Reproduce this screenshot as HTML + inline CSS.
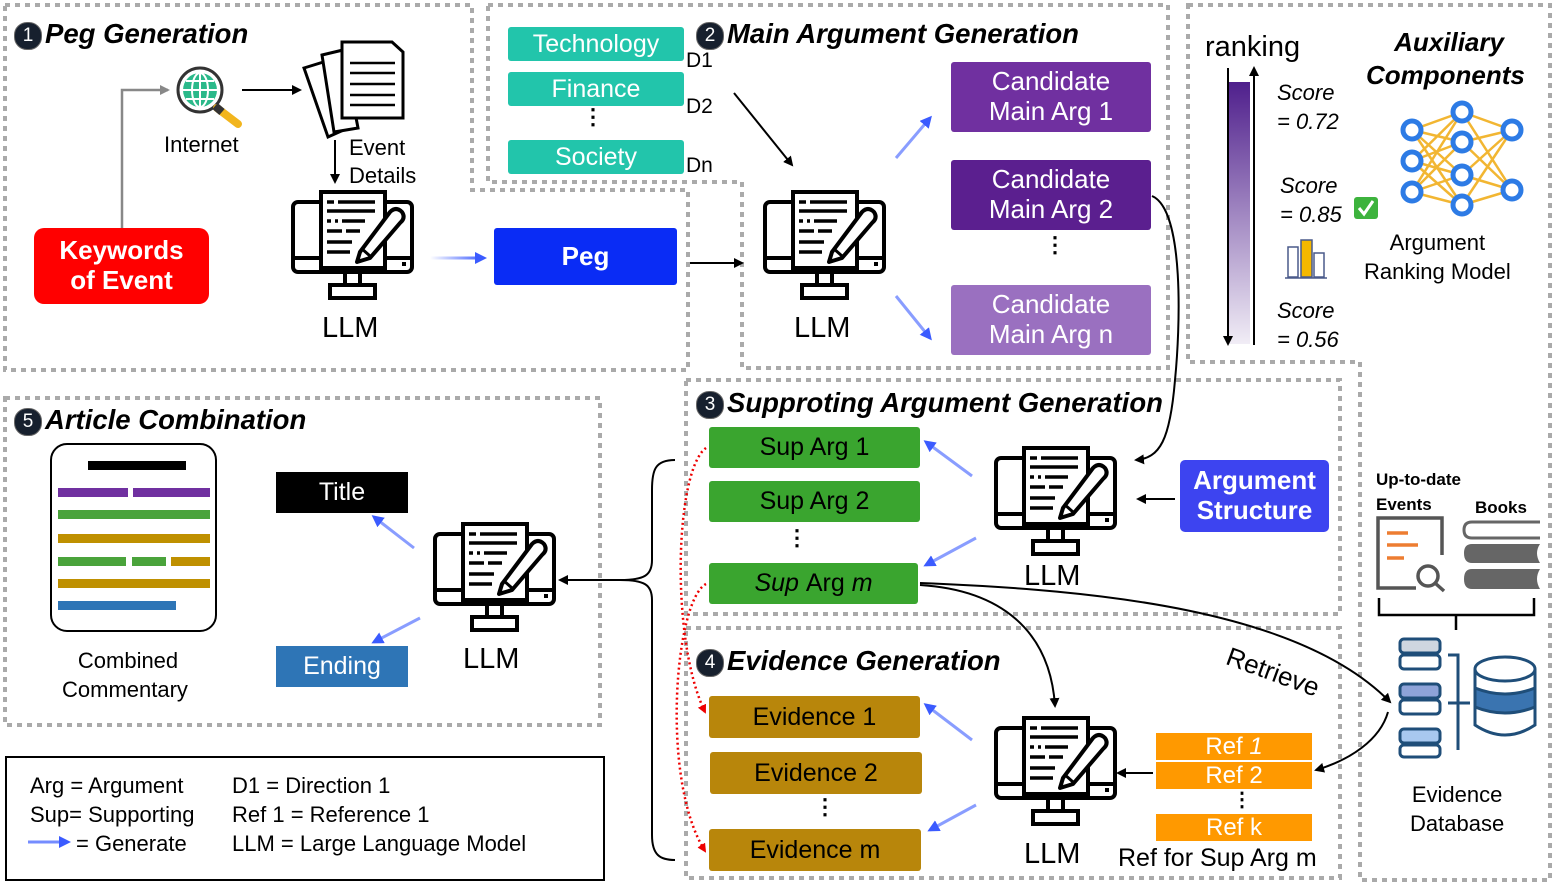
<!DOCTYPE html>
<html><head><meta charset="utf-8"><style>
body{margin:0;background:#fff;}
#c{position:relative;width:1561px;height:884px;overflow:hidden;font-family:"Liberation Sans",sans-serif;}
.t{position:absolute;white-space:nowrap;line-height:1;}
.b{position:absolute;display:flex;align-items:center;justify-content:center;text-align:center;border-radius:3px;line-height:1.15;}
.h{font-weight:bold;font-style:italic;font-size:27.5px;color:#000;}
.num{display:inline-block;width:26px;height:26px;border-radius:13px;background:#17202e;color:#fff;font-size:19px;font-style:normal;font-weight:normal;text-align:center;line-height:26px;margin-right:3px;vertical-align:2px;border:1px solid #666;}
</style></head><body><div id="c">
<svg width="1561" height="884" style="position:absolute;left:0;top:0">
<defs>
<symbol id="llm" viewBox="0 0 125 112">
<rect x="3" y="12" width="119" height="70" rx="5" fill="#fff" stroke="#000" stroke-width="4"/>
<line x1="3" y1="68" x2="122" y2="68" stroke="#000" stroke-width="4"/>
<rect x="112" y="72" width="4" height="4" fill="#000"/>
<rect x="55" y="82" width="15" height="13" fill="none" stroke="#000" stroke-width="4"/>
<rect x="40" y="95" width="45" height="13" fill="none" stroke="#000" stroke-width="4"/>
<rect x="31" y="2" width="64" height="76" fill="#fff" stroke="#000" stroke-width="4"/>
<g stroke="#000" stroke-width="3.5"><line x1="37" y1="12" x2="44" y2="12"/><line x1="48" y1="12" x2="85" y2="12"/><line x1="37" y1="21" x2="85" y2="21"/><line x1="37" y1="31" x2="41" y2="31"/><line x1="45" y1="31" x2="48" y2="31"/><line x1="52" y1="31" x2="75" y2="31"/><line x1="37" y1="41" x2="52" y2="41"/><line x1="56" y1="41" x2="70" y2="41"/><line x1="37" y1="52" x2="62" y2="52"/><line x1="37" y1="62" x2="60" y2="62"/></g>
<path d="M70 62 L100 22 Q106 16 112 22 Q116 28 110 33 L80 68 L67 72 Z" fill="#fff" stroke="#000" stroke-width="4" stroke-linejoin="round"/>
<line x1="71" y1="58" x2="80" y2="66" stroke="#000" stroke-width="3"/>
</symbol>
<marker id="ah" markerWidth="10" markerHeight="10" refX="8" refY="5" orient="auto" markerUnits="userSpaceOnUse"><path d="M0 0 L10 5 L0 10 Z" fill="#000"/></marker>
<marker id="ahg" markerWidth="10" markerHeight="10" refX="8" refY="5" orient="auto" markerUnits="userSpaceOnUse"><path d="M0 0 L10 5 L0 10 Z" fill="#888"/></marker>
<marker id="ahb" markerWidth="12" markerHeight="12" refX="9" refY="6" orient="auto" markerUnits="userSpaceOnUse"><path d="M0 0 L12 6 L0 12 Z" fill="#3b5bff"/></marker>
<marker id="ahr" markerWidth="9" markerHeight="9" refX="7" refY="4.5" orient="auto" markerUnits="userSpaceOnUse"><path d="M0 0 L9 4.5 L0 9 Z" fill="#e00"/></marker>
<linearGradient id="bl" gradientUnits="userSpaceOnUse" x1="430" y1="0" x2="484" y2="0"><stop offset="0" stop-color="#3b5bff" stop-opacity="0"/><stop offset="1" stop-color="#3b5bff"/></linearGradient>
<linearGradient id="pu" x1="0" y1="0" x2="0" y2="1"><stop offset="0" stop-color="#4f1f8c"/><stop offset="1" stop-color="#4f1f8c" stop-opacity="0.08"/></linearGradient>
</defs>
<g fill="none" stroke="#aaa" stroke-width="4" stroke-dasharray="5 5">
<path d="M5 5 H472 V190 H688 V370 H5 Z"/>
<path d="M488 5 H1168 V368 H742 V182 H488 Z"/>
<path d="M1188 5 H1550 V880 H1360 V362 H1188 Z"/>
<path d="M686 380 H1340 V614 H686 Z"/>
<path d="M686 628 H1340 V878 H686 Z"/>
<path d="M5 398 H600 V725 H5 Z"/>
</g>
<rect x="6" y="757" width="598" height="123" fill="none" stroke="#000" stroke-width="2"/>
<use href="#llm" x="290" y="190" width="125" height="112"/>
<use href="#llm" x="762" y="190" width="125" height="112"/>
<use href="#llm" x="993" y="446" width="125" height="112"/>
<use href="#llm" x="432" y="522" width="125" height="112"/>
<use href="#llm" x="993" y="716" width="125" height="112"/>
<circle cx="200" cy="90" r="22" fill="#fff" stroke="#333" stroke-width="3"/>
<circle cx="200" cy="90" r="17" fill="#2bb98a"/>
<g stroke="#fff" stroke-width="2" fill="none"><line x1="183" y1="90" x2="217" y2="90"/><line x1="200" y1="73" x2="200" y2="107"/><ellipse cx="200" cy="90" rx="8" ry="17"/><line x1="186" y1="81" x2="214" y2="81"/><line x1="186" y1="99" x2="214" y2="99"/></g>
<line x1="217" y1="108" x2="238" y2="124" stroke="#f2b51d" stroke-width="8" stroke-linecap="round"/>
<line x1="215" y1="106" x2="222" y2="112" stroke="#333" stroke-width="8"/>
<g fill="#fff" stroke="#000" stroke-width="3">
<path d="M304 68 L330 60 L348 128 L328 137 Z"/>
<path d="M322 55 L343 50 L358 128 L334 132 Z"/>
<path d="M342 42 L392 42 L403 52 L403 118 L342 118 Z"/>
</g>
<g stroke="#000" stroke-width="2.5"><line x1="350" y1="63" x2="395" y2="63"/><line x1="350" y1="73" x2="395" y2="73"/><line x1="350" y1="84" x2="395" y2="84"/><line x1="350" y1="95" x2="395" y2="95"/><line x1="350" y1="105" x2="395" y2="105"/></g>
<path d="M122 228 V90 H168" fill="none" stroke="#888" stroke-width="2.5" marker-end="url(#ahg)"/>
<line x1="242" y1="90" x2="300" y2="90" stroke="#000" stroke-width="2" marker-end="url(#ah)"/>
<line x1="335" y1="140" x2="335" y2="182" stroke="#000" stroke-width="2" marker-end="url(#ah)"/>
<line x1="430" y1="258" x2="484" y2="258" stroke="url(#bl)" stroke-width="3" marker-end="url(#ahb)"/>
<line x1="690" y1="263" x2="742" y2="263" stroke="#000" stroke-width="2" marker-end="url(#ah)"/>
<line x1="734" y1="93" x2="792" y2="165" stroke="#000" stroke-width="2" marker-end="url(#ah)"/>
<line x1="896" y1="158" x2="930" y2="118" stroke="#3b5bff" stroke-opacity="0.6" stroke-width="3" marker-end="url(#ahb)"/>
<line x1="896" y1="296" x2="930" y2="338" stroke="#3b5bff" stroke-opacity="0.6" stroke-width="3" marker-end="url(#ahb)"/>
<path d="M1152 196 C1185 210 1180 330 1175 380 C1170 440 1160 458 1136 460" fill="none" stroke="#000" stroke-width="2" marker-end="url(#ah)"/>
<line x1="1175" y1="499" x2="1138" y2="499" stroke="#000" stroke-width="2" marker-end="url(#ah)"/>
<line x1="972" y1="476" x2="926" y2="442" stroke="#3b5bff" stroke-opacity="0.6" stroke-width="3" marker-end="url(#ahb)"/>
<line x1="976" y1="538" x2="926" y2="565" stroke="#3b5bff" stroke-opacity="0.6" stroke-width="3" marker-end="url(#ahb)"/>
<line x1="972" y1="740" x2="926" y2="705" stroke="#3b5bff" stroke-opacity="0.6" stroke-width="3" marker-end="url(#ahb)"/>
<line x1="976" y1="805" x2="930" y2="830" stroke="#3b5bff" stroke-opacity="0.6" stroke-width="3" marker-end="url(#ahb)"/>
<path d="M920 585 C1000 590 1050 630 1055 706" fill="none" stroke="#000" stroke-width="2" marker-end="url(#ah)"/>
<path d="M920 583 C1100 590 1300 610 1390 702" fill="none" stroke="#000" stroke-width="2" marker-end="url(#ah)"/>
<path d="M1388 712 C1380 740 1350 760 1316 770" fill="none" stroke="#000" stroke-width="2" marker-end="url(#ah)"/>
<line x1="1153" y1="773" x2="1118" y2="773" stroke="#000" stroke-width="2" marker-end="url(#ah)"/>
<path d="M675 460 C655 460 652 470 652 490 V560 C652 575 645 580 620 580 C645 580 652 585 652 600 V835 C652 855 660 860 675 860" fill="none" stroke="#000" stroke-width="2"/>
<line x1="620" y1="580" x2="560" y2="580" stroke="#000" stroke-width="2" marker-end="url(#ah)"/>
<g fill="none" stroke="#e00" stroke-width="2.5" stroke-dasharray="2 3">
<path d="M706 448 C675 470 670 640 705 712" marker-end="url(#ahr)"/>
<path d="M706 584 C675 600 660 780 705 851" marker-end="url(#ahr)"/>
</g>
<line x1="414" y1="548" x2="374" y2="517" stroke="#3b5bff" stroke-opacity="0.6" stroke-width="3" marker-end="url(#ahb)"/>
<line x1="420" y1="618" x2="374" y2="642" stroke="#3b5bff" stroke-opacity="0.6" stroke-width="3" marker-end="url(#ahb)"/>
<rect x="51" y="444" width="165" height="187" rx="16" fill="#fff" stroke="#000" stroke-width="2"/>
<rect x="88" y="461" width="98" height="9" fill="#000"/>
<rect x="58" y="488" width="70" height="9" fill="#7030a0"/><rect x="133" y="488" width="77" height="9" fill="#7030a0"/>
<rect x="58" y="510" width="152" height="9" fill="#4aa33b"/>
<rect x="58" y="534" width="152" height="9" fill="#bf9000"/>
<rect x="58" y="557" width="68" height="9" fill="#4aa33b"/><rect x="132" y="557" width="34" height="9" fill="#4aa33b"/><rect x="171" y="557" width="39" height="9" fill="#bf9000"/>
<rect x="58" y="579" width="152" height="9" fill="#bf9000"/>
<rect x="58" y="601" width="118" height="9" fill="#2e75b6"/>
<rect x="1228" y="82" width="22" height="262" fill="url(#pu)"/>
<line x1="1228" y1="68" x2="1228" y2="344" stroke="#000" stroke-width="2" marker-end="url(#ah)"/>
<line x1="1254" y1="345" x2="1254" y2="68" stroke="#000" stroke-width="2" marker-end="url(#ah)"/>
<g stroke="#4a5a8a" stroke-width="1.5"><rect x="1288" y="247" width="10" height="30" fill="#fff"/><rect x="1301" y="240" width="11" height="37" fill="#f5b800"/><rect x="1314" y="253" width="10" height="24" fill="#fff"/><line x1="1285" y1="278" x2="1327" y2="278"/></g>
<rect x="1354" y="197" width="24" height="22" rx="3" fill="#3db33d"/><path d="M1359 208 L1364 214 L1373 201" fill="none" stroke="#fff" stroke-width="3"/>
<g stroke="#f2b632" stroke-width="2.5">
<line x1="1412" y1="130" x2="1462" y2="112"/><line x1="1412" y1="130" x2="1462" y2="142"/><line x1="1412" y1="130" x2="1462" y2="175"/><line x1="1412" y1="130" x2="1462" y2="205"/>
<line x1="1412" y1="161" x2="1462" y2="112"/><line x1="1412" y1="161" x2="1462" y2="142"/><line x1="1412" y1="161" x2="1462" y2="175"/><line x1="1412" y1="161" x2="1462" y2="205"/>
<line x1="1412" y1="192" x2="1462" y2="112"/><line x1="1412" y1="192" x2="1462" y2="142"/><line x1="1412" y1="192" x2="1462" y2="175"/><line x1="1412" y1="192" x2="1462" y2="205"/>
<line x1="1512" y1="130" x2="1462" y2="112"/><line x1="1512" y1="130" x2="1462" y2="142"/><line x1="1512" y1="130" x2="1462" y2="175"/><line x1="1512" y1="130" x2="1462" y2="205"/>
<line x1="1512" y1="190" x2="1462" y2="112"/><line x1="1512" y1="190" x2="1462" y2="142"/><line x1="1512" y1="190" x2="1462" y2="175"/><line x1="1512" y1="190" x2="1462" y2="205"/>
</g>
<g fill="#fff" stroke="#2d7be5" stroke-width="5">
<circle cx="1412" cy="130" r="9"/><circle cx="1412" cy="161" r="9"/><circle cx="1412" cy="192" r="9"/>
<circle cx="1462" cy="112" r="9"/><circle cx="1462" cy="142" r="9"/><circle cx="1462" cy="175" r="9"/><circle cx="1462" cy="205" r="9"/>
<circle cx="1512" cy="130" r="9"/><circle cx="1512" cy="190" r="9"/>
</g>
<path d="M1416 588 H1378 V518 H1442 V555" fill="none" stroke="#555" stroke-width="3.5"/>
<g stroke="#ed7d31" stroke-width="3.5"><line x1="1387" y1="533" x2="1408" y2="533"/><line x1="1387" y1="545" x2="1418" y2="545"/><line x1="1387" y1="558" x2="1404" y2="558"/></g>
<circle cx="1428" cy="576" r="10" fill="none" stroke="#555" stroke-width="3.5"/><line x1="1435" y1="583" x2="1444" y2="591" stroke="#555" stroke-width="3.5"/>
<path d="M1540 522 H1472 Q1464 522 1464 530 Q1464 538 1472 538 H1540" fill="none" stroke="#666" stroke-width="3"/>
<path d="M1540 544 H1472 Q1464 544 1464 553 Q1464 563 1472 563 H1540 Q1534 553 1540 544 Z" fill="#666"/>
<path d="M1540 569 H1472 Q1464 569 1464 579 Q1464 589 1472 589 H1540 Q1534 579 1540 569 Z" fill="#666"/>
<path d="M1379 598 V615 H1534 V598 M1456 615 V630" fill="none" stroke="#000" stroke-width="2.5"/>
<g fill="none" stroke="#1f4e79" stroke-width="3">
<rect x="1400" y="639" width="40" height="14" rx="4" fill="#cfd6e0"/><rect x="1400" y="655" width="40" height="14" rx="4"/>
<rect x="1400" y="684" width="40" height="14" rx="4" fill="#8ea3d8"/><rect x="1400" y="700" width="40" height="14" rx="4"/>
<rect x="1400" y="729" width="40" height="14" rx="4" fill="#a8c8ef"/><rect x="1400" y="745" width="40" height="12" rx="4"/>
<path d="M1448 655 H1458 V750 M1448 703 H1470"/>
<path d="M1475 669 V725 Q1505 745 1535 725 V669" fill="#fff"/>
<ellipse cx="1505" cy="669" rx="30" ry="12" fill="#fff"/>
<path d="M1475 688 Q1505 700 1535 688 V707 Q1505 719 1475 707 Z" fill="#3a74b0"/>
</g>
<line x1="28" y1="842" x2="68" y2="842" stroke="#3b5bff" stroke-opacity="0.7" stroke-width="3" marker-end="url(#ahb)"/>
</svg>

<div class="t h" style="left:14px;top:20px"><span class="num">1</span>Peg Generation</div>
<div class="t" style="left:164px;top:134px;font-size:22px">Internet</div>
<div class="t" style="left:349px;top:134px;font-size:22px;line-height:28px">Event<br>Details</div>
<div class="b" style="left:34px;top:228px;width:175px;height:76px;background:#f00;color:#fff;font-weight:bold;font-size:26px;border-radius:10px">Keywords<br>of Event</div>
<div class="t" style="left:322px;top:314px;font-size:29px">LLM</div>
<div class="b" style="left:494px;top:228px;width:183px;height:57px;background:#0a2cf5;color:#fff;font-weight:bold;font-size:26px">Peg</div>

<div class="b" style="left:508px;top:27px;width:176px;height:34px;background:#22c5ab;color:#fff;font-size:25px">Technology</div>
<div class="b" style="left:508px;top:72px;width:176px;height:34px;background:#22c5ab;color:#fff;font-size:25px">Finance</div>
<div class="t" style="left:582px;top:106px;font-size:22px;font-weight:bold">⋮</div>
<div class="b" style="left:508px;top:140px;width:176px;height:34px;background:#22c5ab;color:#fff;font-size:25px">Society</div>
<div class="t" style="left:686px;top:50px;font-size:21px">D1</div>
<div class="t" style="left:686px;top:96px;font-size:21px">D2</div>
<div class="t" style="left:686px;top:155px;font-size:21px">Dn</div>
<div class="t h" style="left:696px;top:20px"><span class="num">2</span>Main Argument Generation</div>
<div class="b" style="left:951px;top:62px;width:200px;height:70px;background:#7030a0;color:#fff;font-size:26px">Candidate<br>Main Arg 1</div>
<div class="b" style="left:951px;top:160px;width:200px;height:70px;background:#5b1f8f;color:#fff;font-size:26px">Candidate<br>Main Arg 2</div>
<div class="t" style="left:1044px;top:234px;font-size:22px;font-weight:bold">⋮</div>
<div class="b" style="left:951px;top:285px;width:200px;height:70px;background:#9a70c0;color:#fff;font-size:26px">Candidate<br>Main Arg n</div>
<div class="t" style="left:794px;top:314px;font-size:29px">LLM</div>

<div class="t" style="left:1205px;top:33px;font-size:29px">ranking</div>
<div class="t" style="left:1277px;top:78px;font-size:22px;font-style:italic;line-height:29px">Score<br>= 0.72</div>
<div class="t" style="left:1280px;top:171px;font-size:22px;font-style:italic;line-height:29px">Score<br>= 0.85</div>
<div class="t" style="left:1277px;top:296px;font-size:22px;font-style:italic;line-height:29px">Score<br>= 0.56</div>
<div class="t" style="left:1366px;top:26px;font-size:26px;font-weight:bold;font-style:italic;text-align:center;line-height:33px">&nbsp;Auxiliary<br>Components</div>
<div class="t" style="left:1364px;top:228px;font-size:22px;text-align:center;line-height:29px">Argument<br>Ranking Model</div>

<div class="t h" style="left:696px;top:389px"><span class="num">3</span>Supproting Argument Generation</div>
<div class="b" style="left:709px;top:427px;width:211px;height:41px;background:#3aa52f;color:#000;font-size:25px">Sup Arg 1</div>
<div class="b" style="left:709px;top:481px;width:211px;height:41px;background:#3aa52f;color:#000;font-size:25px">Sup Arg 2</div>
<div class="t" style="left:786px;top:527px;font-size:22px;font-weight:bold">⋮</div>
<div class="b" style="left:709px;top:563px;width:209px;height:41px;background:#3aa52f;color:#000;font-size:25px"><i>Sup</i>&nbsp;Arg&nbsp;<i>m</i></div>
<div class="b" style="left:1180px;top:460px;width:149px;height:72px;background:#3d44f0;color:#fff;font-size:26px;font-weight:bold;border-radius:5px">Argument<br>Structure</div>
<div class="t" style="left:1024px;top:562px;font-size:29px">LLM</div>
<div class="t" style="left:1376px;top:467px;font-size:17px;font-weight:bold;line-height:25px">Up-to-date<br>Events</div>
<div class="t" style="left:1475px;top:499px;font-size:17px;font-weight:bold">Books</div>

<div class="t h" style="left:696px;top:647px"><span class="num">4</span>Evidence Generation</div>
<div class="t" style="left:1232px;top:643px;font-size:26px;transform:rotate(20deg);transform-origin:left top">Retrieve</div>
<div class="b" style="left:709px;top:696px;width:211px;height:42px;background:#b8860b;color:#000;font-size:25px">Evidence 1</div>
<div class="b" style="left:710px;top:752px;width:212px;height:42px;background:#b8860b;color:#000;font-size:25px">Evidence 2</div>
<div class="t" style="left:814px;top:796px;font-size:22px;font-weight:bold">⋮</div>
<div class="b" style="left:709px;top:829px;width:212px;height:42px;background:#b8860b;color:#000;font-size:25px">Evidence m</div>
<div class="t" style="left:1024px;top:840px;font-size:29px">LLM</div>
<div class="b" style="left:1156px;top:733px;width:156px;height:27px;background:#ff9900;color:#fff;font-size:24px;border-radius:0">Ref <i>&nbsp;1</i></div>
<div class="b" style="left:1156px;top:762px;width:156px;height:27px;background:#ff9900;color:#fff;font-size:24px;border-radius:0">Ref 2</div>
<div class="t" style="left:1232px;top:790px;font-size:20px;font-weight:bold">⋮</div>
<div class="b" style="left:1156px;top:814px;width:156px;height:27px;background:#ff9900;color:#fff;font-size:24px;border-radius:0">Ref k</div>
<div class="t" style="left:1118px;top:846px;font-size:25px">Ref for Sup Arg m</div>
<div class="t" style="left:1410px;top:780px;font-size:22px;text-align:center;line-height:29px">Evidence<br>Database</div>

<div class="t h" style="left:14px;top:406px"><span class="num">5</span>Article Combination</div>
<div class="b" style="left:276px;top:472px;width:132px;height:41px;background:#000;color:#fff;font-size:25px;border-radius:0">Title</div>
<div class="b" style="left:276px;top:646px;width:132px;height:41px;background:#2e75b6;color:#fff;font-size:25px;border-radius:0">Ending</div>
<div class="t" style="left:463px;top:645px;font-size:29px">LLM</div>
<div class="t" style="left:62px;top:646px;font-size:22px;text-align:center;line-height:29px">&nbsp;Combined<br>Commentary</div>

<div class="t" style="left:30px;top:771px;font-size:22px;line-height:29px">Arg = Argument<br>Sup= Supporting<br><span style="display:inline-block;width:46px"></span>= Generate</div>
<div class="t" style="left:232px;top:771px;font-size:22px;line-height:29px">D1 = Direction 1<br>Ref 1 = Reference 1<br>LLM = Large Language Model</div>
</div></body></html>
